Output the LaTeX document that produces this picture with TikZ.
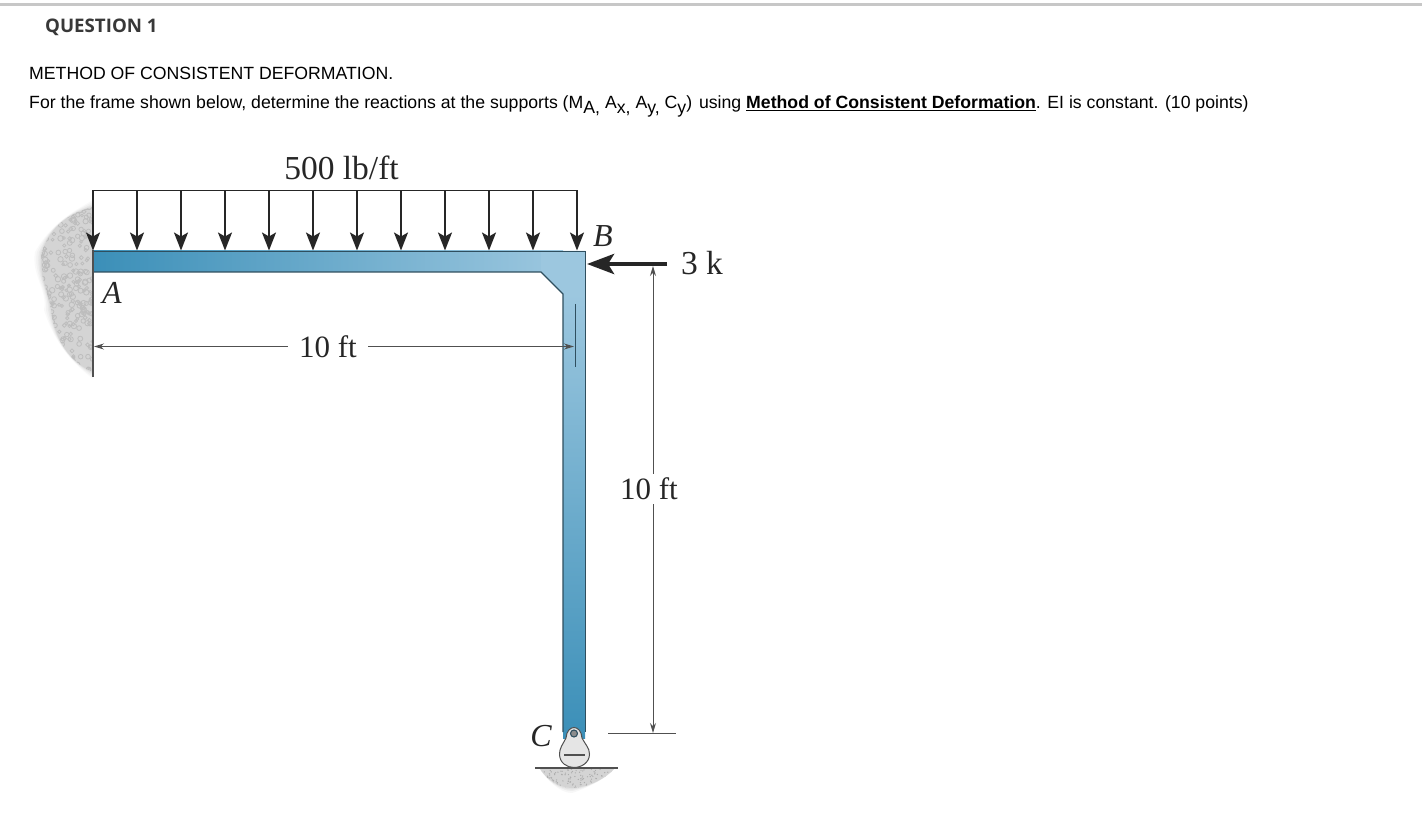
\documentclass[tikz,border=0pt]{standalone}
\usepackage{fontspec}
\setmainfont{Liberation Sans}
\newfontfamily\serifin{Liberation Serif}
\newfontfamily\headin{Open Sans}
\usetikzlibrary{arrows.meta,calc}
\definecolor{darkb}{HTML}{3B8FB8}
\definecolor{lightb}{HTML}{9CC7DF}
\definecolor{edgeb}{HTML}{2F4F5F}
\definecolor{inkc}{HTML}{262626}
\definecolor{dimc}{HTML}{505050}
\tikzset{
  bodytext/.style={anchor=base west,inner sep=0pt,text=black,font=\fontsize{17.68}{20}\selectfont},
  figtext/.style={inner sep=1pt,text=inkc,font=\serifin\fontsize{33.5}{35}\selectfont},
  dimtext/.style={inner sep=0pt,text=inkc,font=\serifin\fontsize{31}{33}\selectfont},
  lettertext/.style={inner sep=0pt,text=inkc,font=\serifin\itshape\fontsize{32}{34}\selectfont},
  loadarrow/.style={draw=inkc,line width=2pt,-{Stealth[length=18pt,width=14pt,inset=4pt]}},
  dimline/.style={draw=dimc,line width=1pt},
  dimarrow/.style={dimline,-{Stealth[length=10pt,width=6pt]}},
  speck/.style={draw=black!26,line width=.8pt},
}
\newcommand{\supsub}[1]{\raisebox{-4.5pt}{#1}}
\newcommand{\wallpath}[1]{(93,207-#1) .. controls (72,212) and (50,225) .. (42-#1,252)
      .. controls (38-#1,275) and (48,290) .. (51-#1,310)
      .. controls (55,345) and (75,365) .. (93,372+#1) -- cycle}
\begin{document}
\begin{tikzpicture}[x=1pt,y=-1pt]
\useasboundingbox (0,0) rectangle (1422,826);
\fill[white] (0,0) rectangle (1422,826);
\fill[black!22] (0,3.5) rectangle (1422,6.5);
% texts
\node[bodytext,font=\headin\bfseries\fontsize{18.7}{21}\selectfont,text=black!78] (q) at (45,32.6) {QUESTION 1};
\node[bodytext] (t1) at (29,79.6) {METHOD OF CONSISTENT DEFORMATION.};
\node[bodytext] (t2) at (29,108.6) {For the frame shown below, determine the reactions at the supports (M\supsub{A,} A\supsub{x,} A\supsub{y,} C\supsub{y})\hspace{2pt} using \underline{\textbf{Method of Consistent Deformation}}. EI is constant. (10 points)};
% wall blob
\begin{scope}
  \foreach \k/\o in {7/.05,5/.07,3/.09,1.5/.1,0/.16}{
    \fill[black!40,opacity=\o] \wallpath{\k};
  }
  \clip \wallpath{0};
  \pgfmathsetseed{77}
  \foreach \i in {1,...,300}{
    \pgfmathsetmacro{\px}{38+55*rnd}
    \pgfmathsetmacro{\py}{205+170*rnd}
    \pgfmathsetmacro{\pr}{1.3+1.5*rnd}
    \draw[speck] (\px,\py) circle[radius=\pr];
  }
\end{scope}
% ground blob
\begin{scope}
  \foreach \k/\o in {5/.08,3/.1,1.5/.12,0/.18}{
    \fill[black!40,opacity=\o] (540,769) .. controls (547,780) and (560,788+\k) .. (572,788+\k)
      .. controls (590,787) and (606,778) .. (614,769) -- cycle;
  }
  \clip (540,769) .. controls (547,780) and (560,788) .. (572,788)
      .. controls (590,787) and (606,778) .. (614,769) -- cycle;
  \pgfmathsetseed{15}
  \foreach \i in {1,...,160}{
    \pgfmathsetmacro{\px}{537+80*rnd}
    \pgfmathsetmacro{\py}{769+21*rnd}
    \fill[black!32] (\px,\py) circle[radius=.7];
  }
\end{scope}
% frame
\shade[left color=darkb,right color=lightb] (93,251) rectangle (563,272);
\fill[lightb] (541,251) -- (585,251) -- (585,294) -- (563,294) -- (541,272) -- cycle;
\shade[top color=lightb,bottom color=darkb] (563,294) rectangle (585,738);
% outline
\draw[edgeb,line width=.9pt] (93,251) -- (585,251) -- (585,732);
\draw[edgeb,line width=1.1pt] (93,272) -- (541,272) -- (563,294) -- (563,732);
% centre mark
\draw[edgeb,line width=1pt] (575,304) -- (575,367);
% wall line
\coordinate (wallbot) at (93,377);
\draw[dimc,line width=1.1pt] (93,250) -- (wallbot);
% load
\coordinate (loadL) at (93,191);
\coordinate (loadR) at (577,191);
\draw[inkc,line width=1pt] (loadL) -- (loadR);
\foreach \n in {0,...,11}{
  \pgfmathsetmacro{\ax}{93+44*\n}
  \coordinate (lt\n) at (\ax,190.5);
  \coordinate (lb\n) at (\ax,250.5);
  \draw[loadarrow] (lt\n) -- (lb\n);
}
% support
\fill[black!10,draw=dimc,line width=1pt]
  (566,738) .. controls (563,744) and (559.5,748) .. (559.5,754)
  .. controls (559.5,763) and (567,767.5) .. (574,767.5)
  .. controls (581,767.5) and (589.5,763) .. (589.5,754)
  .. controls (589.5,748) and (585,744) .. (582,738)
  .. controls (581,724) and (567,724) .. (566,738) -- cycle;
\draw[dimc,line width=1.2pt] (564,755) -- (585,755);
\fill[black!45,draw=edgeb,line width=1.1pt] (574,733.5) circle[radius=3.5];
% ground
\coordinate (gl) at (535,768);
\coordinate (gr) at (618,768);
\draw[dimc,line width=1.2pt] (gl) -- (gr);
% labels
\node[figtext] (load) at (341.5,168) {500 lb/ft};
\node[lettertext] (la) at (112,293) {A};
\node[lettertext] (lb) at (603,236) {B};
\node[lettertext] (lc) at (541,736) {C};
\node[figtext] (kk) at (702,263) {3 k};
% 3 k force
\coordinate (ft) at (667,264);
\coordinate (fh) at (587,264);
\draw[inkc,line width=4.5pt,-{Stealth[length=27pt,width=20pt,inset=6pt]}] (ft) -- (fh);
% horizontal dim
\node[dimtext,inner xsep=11pt,inner ysep=4pt] (d1) at (328,346.5) {10 ft};
\coordinate (d1l) at (94,346.5);
\coordinate (d1r) at (574,346.5);
\draw[dimarrow] (d1) -- (d1l);
\draw[dimarrow] (d1) -- (d1r);
% vertical dim
\node[dimtext,inner ysep=4pt] (d2) at (649,489) {10 ft};
\coordinate (d2t) at (653,266);
\coordinate (d2b) at (653,733);
\draw[dimarrow] (d2.north -| d2t) -- (d2t);
\draw[dimarrow] (d2.south -| d2b) -- (d2b);
\coordinate (el) at (608,733);
\coordinate (er) at (676,733);
\draw[dimline] (el) -- (er);
\end{tikzpicture}
\end{document}
